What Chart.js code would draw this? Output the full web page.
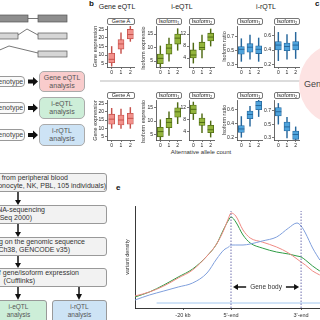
<!DOCTYPE html>
<html>
<head>
<meta charset="utf-8">
<script src="https://cdn.jsdelivr.net/npm/chart.js@4.4.1/dist/chart.umd.min.js"></script>
<style>
html, body { margin: 0; padding: 0; background: #fff; }
body { width: 320px; height: 320px; overflow: hidden; position: relative; font-family: "Liberation Sans", Arial, sans-serif; color: #333; }
.abs { position: absolute; }
canvas { position: absolute; }
.lbl { position: absolute; font-weight: bold; font-size: 8px; color: #111; }
.ttl { position: absolute; font-size: 7px; color: #222; white-space: nowrap; transform: translateX(-50%); }
.strip { position: absolute; box-sizing: border-box; border: 0.8px solid #777; border-radius: 2px; font-size: 5.5px; line-height: 5.5px; text-align: center; background: #fff; color: #222; }
.strip sub { font-size: 3.5px; vertical-align: -1px; line-height: 0; }
.pill { position: absolute; box-sizing: border-box; border: 1px solid #999; border-radius: 4px; background: #fafafa; font-size: 7px; text-align: center; color: #444; }
.abox { position: absolute; box-sizing: border-box; border: 1px solid #aaa; border-radius: 5px; font-size: 7px; line-height: 8px; text-align: center; color: #555; padding-top: 2px; }
.dbox { position: absolute; box-sizing: border-box; border: 1px solid #999; border-radius: 3px; background: #f2f2f2; }
.t { position: absolute; white-space: nowrap; font-size: 7px; color: #333; }
</style>
</head>
<body>

<!-- panel a : gene models and analysis boxes -->
<svg class="abs" style="left:0;top:0" width="100" height="150">
  <rect x="-5" y="15" width="33" height="7" fill="#8e8e8e" stroke="#555" stroke-width="0.7"/>
  <line x1="28" y1="18.5" x2="38" y2="18.5" stroke="#555" stroke-width="0.8"/>
  <rect x="38" y="15" width="29" height="7" fill="#8e8e8e" stroke="#555" stroke-width="0.7"/>
  <rect x="-5" y="33" width="23" height="6" fill="#d6d6d6" stroke="#555" stroke-width="0.7"/>
  <polyline points="18,35 27,29 38,35" fill="none" stroke="#555" stroke-width="0.8"/>
  <rect x="38" y="33" width="29" height="6" fill="#d6d6d6" stroke="#555" stroke-width="0.7"/>
  <polyline points="-5,52 9,46 38,53" fill="none" stroke="#555" stroke-width="0.8"/>
  <rect x="38" y="51" width="29" height="6" fill="#d6d6d6" stroke="#555" stroke-width="0.7"/>
  <polygon points="28,79.5 33,79.5 33,77 38,81.5 33,86 33,83.5 28,83.5" fill="#111"/>
  <polygon points="28,106 33,106 33,103.5 38,108 33,112.5 33,110 28,110" fill="#111"/>
  <polygon points="28,133 33,133 33,130.5 38,135 33,139.5 33,137 28,137" fill="#111"/>
</svg>
<div class="pill" style="left:-9px;top:76px;width:34px;height:11px;line-height:9px;">Genotype</div>
<div class="pill" style="left:-9px;top:102px;width:34px;height:12px;line-height:10px;">Genotype</div>
<div class="pill" style="left:-9px;top:129px;width:34px;height:12px;line-height:10px;">Genotype</div>
<div class="abox" style="left:39px;top:71px;width:46px;height:21px;background:#f9cccc;">Gene eQTL<br>analysis</div>
<div class="abox" style="left:39px;top:97px;width:46px;height:22px;background:#cdeed8;">i-eQTL<br>analysis</div>
<div class="abox" style="left:39px;top:124px;width:46px;height:22px;background:#cde3f5;">i-rQTL<br>analysis</div>

<!-- panel b titles -->
<div class="lbl" style="left:89px;top:-1px;">b</div>
<div class="ttl" style="left:117px;top:3px;">Gene eQTL</div>
<div class="ttl" style="left:182px;top:3px;">i-eQTL</div>
<div class="ttl" style="left:266px;top:3px;">i-rQTL</div>
<div class="abs" style="left:100px;top:80px;width:202px;height:2px;background:#dcdcdc;"></div>
<div class="t" style="left:201px;top:149px;font-size:6px;transform:translateX(-50%);">Alternative allele count</div>

<!-- panel c -->
<div class="lbl" style="left:315px;top:-1px;">c</div>
<div class="abs" style="left:299px;top:43px;width:82px;height:82px;border-radius:50%;background:#fde3e3;"></div>
<div class="t" style="left:304px;top:79px;font-size:9px;color:#444;">Gene</div>

<!-- panel d : workflow -->
<div class="dbox" style="left:-40px;top:173px;width:147px;height:19px;"></div>
<div class="t" style="right:252px;top:174px;">Cells from peripheral blood</div>
<div class="t" style="right:214px;top:182px;">(Monocyte, NK, PBL, 105 individuals)</div>
<div class="dbox" style="left:-40px;top:205px;width:147px;height:19px;"></div>
<div class="t" style="right:275px;top:206px;">RNA-sequencing</div>
<div class="t" style="right:288px;top:214px;">(Illumina HiSeq 2000)</div>
<div class="dbox" style="left:-40px;top:237px;width:147px;height:19px;"></div>
<div class="t" style="right:235px;top:238px;">Mapping on the genomic sequence</div>
<div class="t" style="right:250px;top:246px;">(GRCh38, GENCODE v35)</div>
<div class="dbox" style="left:-40px;top:268px;width:147px;height:19px;"></div>
<div class="t" style="right:241px;top:269px;">Quantification of gene/isoform expression</div>
<div class="t" style="right:285px;top:277px;">(Cufflinks)</div>
<div class="abox" style="left:-20px;top:300px;width:67px;height:24px;background:#cdeed8;border-color:#999;border-radius:3px;padding-left:10px;font-size:6.5px;line-height:8px;">i-eQTL<br>analysis</div>
<div class="abox" style="left:52px;top:300px;width:55px;height:24px;background:#cde3f5;border-color:#999;border-radius:3px;font-size:6.5px;line-height:8px;">i-rQTL<br>analysis</div>
<svg class="abs" style="left:0;top:150px" width="110" height="170">
  <g fill="#111" stroke="#111">
    <line x1="18" y1="42" x2="18" y2="51" stroke-width="1.5"/><polygon points="15,50 21,50 18,55" stroke="none"/>
    <line x1="18" y1="74" x2="18" y2="83" stroke-width="1.5"/><polygon points="15,82 21,82 18,87" stroke="none"/>
    <line x1="18" y1="106" x2="18" y2="114" stroke-width="1.5"/><polygon points="15,113 21,113 18,118" stroke="none"/>
    <line x1="18" y1="137" x2="18" y2="145" stroke-width="1.5"/><polygon points="15,144 21,144 18,150" stroke="none"/>
    <line x1="79" y1="137" x2="79" y2="145" stroke-width="1.5"/><polygon points="76,144 82,144 79,150" stroke="none"/>
  </g>
</svg>

<!-- panel e -->
<div class="lbl" style="left:116px;top:183px;">e</div>

<script>
// ---------- data ----------
const alleles = ['0', '1', '2'];
// each box: [whisker low, Q1, median, Q3, whisker high]
const geneATop    = [[3.5, 5.5, 7.5, 11, 15], [11, 13.5, 16.5, 19, 23], [18, 19.5, 22, 25, 27]];
const geneABottom = [[10, 12.5, 15.5, 18.5, 22], [10, 12, 15, 18, 21.5], [10, 12.5, 16, 19, 22.5]];
const isoExp1Top    = [[2, 4, 6, 7.6, 10.6], [5, 7.6, 9.8, 11.3, 13.5], [9, 11.3, 13.5, 15, 17]];
const isoExp2Top    = [[2.3, 4, 5, 6.7, 9], [4, 6.7, 7.5, 9.3, 11.7], [8, 9.7, 11, 12.3, 13.7]];
const isoExp1Bottom = [[2, 4, 6, 7.6, 10.5], [4.5, 7.5, 9.5, 11, 13.5], [9, 11.5, 13.5, 15, 17]];
const isoExp2Bottom = [[8, 10, 11.5, 13, 14], [3.5, 6, 7, 8.5, 10], [2, 3.5, 4.5, 6, 7.5]];
const isoRat1Top    = [[0.35, 0.45, 0.52, 0.56, 0.67], [0.38, 0.48, 0.55, 0.60, 0.72], [0.35, 0.46, 0.52, 0.57, 0.68]];
const isoRat2Top    = [[0.25, 0.40, 0.47, 0.52, 0.65], [0.27, 0.39, 0.45, 0.50, 0.62], [0.28, 0.40, 0.47, 0.52, 0.65]];
const isoRat1Bottom = [[0.20, 0.27, 0.32, 0.37, 0.50], [0.36, 0.47, 0.53, 0.58, 0.65], [0.50, 0.60, 0.66, 0.72, 0.78]];
const isoRat2Bottom = [[0.50, 0.62, 0.68, 0.74, 0.80], [0.30, 0.40, 0.46, 0.53, 0.60], [0.22, 0.28, 0.35, 0.40, 0.46]];

const geneTicks = [5, 10, 15, 20, 25];
const isoExp1Ticks = [5, 10, 15];
const isoExp2Ticks = [4, 8, 12];
const ratioTicksHi = [0.3, 0.4, 0.5, 0.6, 0.7, 0.8];
const ratioTicksLo = [0.2, 0.3, 0.4, 0.5, 0.6, 0.7];

// panel e: variant density around the gene (kb from 5'-end; gene body scaled to 29.2)
const geneBodyEnd = 29.2;
const densityPos = [-40, -34, -28, -22, -16, -10, -6, -3, -1, 0, 2, 5, 8, 13, 19, 24, 27.5, 29.2, 31, 34, 37];
const densityGene  = [12, 16, 22, 30, 38, 52, 64, 78, 90, 95, 92, 78, 70, 66, 61, 55, 49, 46, 43, 37, 33];
const densityIeqtl = [11, 16, 23, 31, 39, 52, 64, 79, 88, 91, 86, 73, 65, 60, 56, 54, 52, 51, 48, 42, 37];
const densityIrqtl = [8, 13, 17, 21, 25, 35, 49, 58, 61, 63, 63, 63, 64, 67, 71, 80, 85, 82, 75, 60, 48];
const baselinePos = [-31, 60];
const baselineVal = [5, 5];
const eTickValues = [-20, 0, geneBodyEnd, geneBodyEnd + 20];
const eTickLabels = ['-20 kb', "5'-end", "3'-end", '+20 kb'];

Chart.defaults.font.family = '"Liberation Sans", Arial, sans-serif';
Chart.defaults.color = '#222';

const medianPlugin = {
  id: 'median',
  afterDatasetsDraw(chart, args, opts) {
    if (!opts.values) return;
    const ctx = chart.ctx;
    const meta = chart.getDatasetMeta(1);
    ctx.save();
    ctx.strokeStyle = opts.color;
    ctx.lineWidth = 1;
    meta.data.forEach((bar, i) => {
      const y = chart.scales.y.getPixelForValue(opts.values[i]);
      ctx.beginPath();
      ctx.moveTo(bar.x - bar.width / 2, y);
      ctx.lineTo(bar.x + bar.width / 2, y);
      ctx.stroke();
    });
    ctx.restore();
  }
};

const palette = {
  red:   { fill: '#f2918b', line: '#c6524c' },
  green: { fill: '#93b53c', line: '#4f6a14' },
  blue:  { fill: '#4ea3dc', line: '#27679c' }
};

function boxPanel(o) {
  const xh = 10;
  const cv = document.createElement('canvas');
  cv.width = o.w + o.axisW;
  cv.height = o.h + xh;
  cv.style.left = (o.x - o.axisW) + 'px';
  cv.style.top = o.y + 'px';
  document.body.appendChild(cv);

  const strip = document.createElement('div');
  strip.className = 'strip';
  strip.style.left = o.x + 'px';
  strip.style.top = (o.y - 8) + 'px';
  strip.style.width = o.w + 'px';
  strip.style.height = '7px';
  strip.innerHTML = o.strip;
  document.body.appendChild(strip);

  const col = palette[o.color];
  new Chart(cv, {
    type: 'bar',
    data: {
      labels: alleles,
      datasets: [
        { data: o.stats.map(s => [s[0], s[4]]), backgroundColor: col.line, barThickness: 0.8, grouped: false, order: 2 },
        { data: o.stats.map(s => [s[1], s[3]]), backgroundColor: col.fill, borderColor: col.line, borderWidth: 0.8,
          borderSkipped: false, barThickness: 6, grouped: false, order: 1 }
      ]
    },
    options: {
      responsive: false, animation: false, devicePixelRatio: 1,
      layout: { padding: 0 },
      plugins: { legend: { display: false }, tooltip: { enabled: false },
        median: { values: o.stats.map(s => s[2]), color: col.line } },
      scales: {
        x: {
          grid: { display: true, drawOnChartArea: false, offset: false, tickLength: 2, color: '#555', lineWidth: 0.8 },
          border: { color: '#444', width: 0.8 },
          ticks: { font: { size: 5 }, padding: 1, maxRotation: 0 },
          afterFit: s => { s.height = xh; s.paddingLeft = 0; s.paddingRight = 0; }
        },
        y: {
          min: o.min, max: o.max,
          afterBuildTicks: s => { s.ticks = o.ticks.map(v => ({ value: v })); },
          grid: { drawOnChartArea: false, tickLength: 2, color: '#555', lineWidth: 0.8 },
          border: { color: '#444', width: 0.8 },
          ticks: { font: { size: 5 }, padding: 1 },
          title: { display: !!o.title, text: o.title, font: { size: 5.5 }, padding: 0, color: '#333' },
          afterFit: s => { s.width = o.axisW; s.paddingTop = 0; s.paddingBottom = 0; }
        }
      }
    },
    plugins: [medianPlugin]
  });
}

const topY = 26, topH = 41, botY = 100, botH = 40;
boxPanel({ x: 107, y: topY, w: 28, h: topH, axisW: 15, title: 'Gene expression', strip: 'Gene A', color: 'red', stats: geneATop, min: 3, max: 27, ticks: geneTicks });
boxPanel({ x: 156, y: topY, w: 26, h: topH, axisW: 16, title: 'Isoform expression', strip: 'Isoform<sub>1</sub>', color: 'green', stats: isoExp1Top, min: 2.8, max: 18, ticks: isoExp1Ticks });
boxPanel({ x: 189, y: topY, w: 26, h: topH, axisW: 8, title: '', strip: 'Isoform<sub>2</sub>', color: 'green', stats: isoExp2Top, min: 1, max: 14.7, ticks: isoExp2Ticks });
boxPanel({ x: 237, y: topY, w: 26, h: topH, axisW: 16, title: 'Isoform ratio', strip: 'Isoform<sub>1</sub>', color: 'blue', stats: isoRat1Top, min: 0.27, max: 0.85, ticks: ratioTicksHi });
boxPanel({ x: 274, y: topY, w: 26, h: topH, axisW: 11, title: '', strip: 'Isoform<sub>2</sub>', color: 'blue', stats: isoRat2Top, min: 0.16, max: 0.74, ticks: ratioTicksLo });

boxPanel({ x: 107, y: botY, w: 28, h: botH, axisW: 15, title: 'Gene expression', strip: 'Gene A', color: 'red', stats: geneABottom, min: 3, max: 27, ticks: geneTicks });
boxPanel({ x: 156, y: botY, w: 26, h: botH, axisW: 16, title: 'Isoform expression', strip: 'Isoform<sub>1</sub>', color: 'green', stats: isoExp1Bottom, min: 2.8, max: 18, ticks: isoExp1Ticks });
boxPanel({ x: 189, y: botY, w: 26, h: botH, axisW: 8, title: '', strip: 'Isoform<sub>2</sub>', color: 'green', stats: isoExp2Bottom, min: 1, max: 14.7, ticks: isoExp2Ticks });
boxPanel({ x: 237, y: botY, w: 26, h: botH, axisW: 16, title: 'Isoform ratio', strip: 'Isoform<sub>1</sub>', color: 'blue', stats: isoRat1Bottom, min: 0.16, max: 0.74, ticks: ratioTicksLo });
boxPanel({ x: 274, y: botY, w: 26, h: botH, axisW: 11, title: '', strip: 'Isoform<sub>2</sub>', color: 'blue', stats: isoRat2Bottom, min: 0.27, max: 0.85, ticks: ratioTicksHi });

// ---------- panel e ----------
const geneBodyPlugin = {
  id: 'geneBody',
  afterDatasetsDraw(chart) {
    const ctx = chart.ctx, xs = chart.scales.x, ys = chart.scales.y;
    const x0 = xs.getPixelForValue(0) + 2, x1 = xs.getPixelForValue(geneBodyEnd) - 2;
    const y = ys.getPixelForValue(21);
    ctx.save();
    ctx.strokeStyle = '#111'; ctx.fillStyle = '#111'; ctx.lineWidth = 1.5;
    ctx.beginPath(); ctx.moveTo(x0 + 4, y); ctx.lineTo(x1 - 4, y); ctx.stroke();
    ctx.beginPath(); ctx.moveTo(x0, y); ctx.lineTo(x0 + 5, y - 3); ctx.lineTo(x0 + 5, y + 3); ctx.fill();
    ctx.beginPath(); ctx.moveTo(x1, y); ctx.lineTo(x1 - 5, y - 3); ctx.lineTo(x1 - 5, y + 3); ctx.fill();
    ctx.font = '6.5px "Liberation Sans", Arial, sans-serif';
    const txt = 'Gene body', tw = ctx.measureText(txt).width, cx = (x0 + x1) / 2;
    ctx.fillStyle = '#fff'; ctx.fillRect(cx - tw / 2 - 4, y - 4, tw + 8, 8);
    ctx.fillStyle = '#333'; ctx.textAlign = 'center'; ctx.textBaseline = 'middle';
    ctx.fillText(txt, cx, y + 0.5);
    ctx.restore();
  }
};

(function () {
  const axisW = 11, xh = 12, plotW = 225, plotH = 102;
  const cv = document.createElement('canvas');
  cv.width = plotW + axisW; cv.height = plotH + xh;
  cv.style.left = (135 - axisW) + 'px'; cv.style.top = '206px';
  document.body.appendChild(cv);
  const pts = vals => densityPos.map((p, i) => ({ x: p, y: vals[i] }));
  const dash = { borderColor: '#4b4b9b', borderWidth: 0.8, borderDash: [1.5, 1.5], pointRadius: 0, tension: 0 };
  new Chart(cv, {
    type: 'line',
    data: {
      datasets: [
        { data: [{ x: 0, y: 0 }, { x: 0, y: 97 }], ...dash },
        { data: [{ x: geneBodyEnd, y: 0 }, { x: geneBodyEnd, y: 97 }], ...dash },
        { data: baselinePos.map((p, i) => ({ x: p, y: baselineVal[i] })), borderColor: '#a4c8ef', borderWidth: 1, pointRadius: 0 },
        { data: pts(densityIrqtl), borderColor: '#7f9fdc', borderWidth: 1, pointRadius: 0, tension: 0.4, cubicInterpolationMode: 'monotone' },
        { data: pts(densityGene), borderColor: '#ef8a84', borderWidth: 1, pointRadius: 0, tension: 0.4, cubicInterpolationMode: 'monotone' },
        { data: pts(densityIeqtl), borderColor: '#2f9c45', borderWidth: 1, pointRadius: 0, tension: 0.4, cubicInterpolationMode: 'monotone' }
      ]
    },
    options: {
      responsive: false, animation: false, devicePixelRatio: 1,
      layout: { padding: 0 },
      plugins: { legend: { display: false }, tooltip: { enabled: false } },
      scales: {
        x: {
          type: 'linear', min: -40, max: 53.75,
          afterBuildTicks: s => { s.ticks = eTickValues.map(v => ({ value: v })); },
          grid: { drawOnChartArea: false, tickLength: 2, color: '#333', lineWidth: 0.8 },
          border: { color: '#222', width: 0.9 },
          ticks: { font: { size: 5.5 }, padding: 2, maxRotation: 0, color: '#333',
            callback: v => eTickLabels[eTickValues.indexOf(v)] },
          afterFit: s => { s.height = xh; s.paddingLeft = 0; s.paddingRight = 0; }
        },
        y: {
          min: 0, max: 102,
          ticks: { display: false },
          grid: { display: false },
          border: { color: '#222', width: 0.9 },
          title: { display: true, text: 'variant density', font: { size: 5.5 }, padding: 0, color: '#333' },
          afterFit: s => { s.width = axisW; s.paddingTop = 0; s.paddingBottom = 0; }
        }
      }
    },
    plugins: [geneBodyPlugin]
  });
})();
</script>
</body>
</html>
